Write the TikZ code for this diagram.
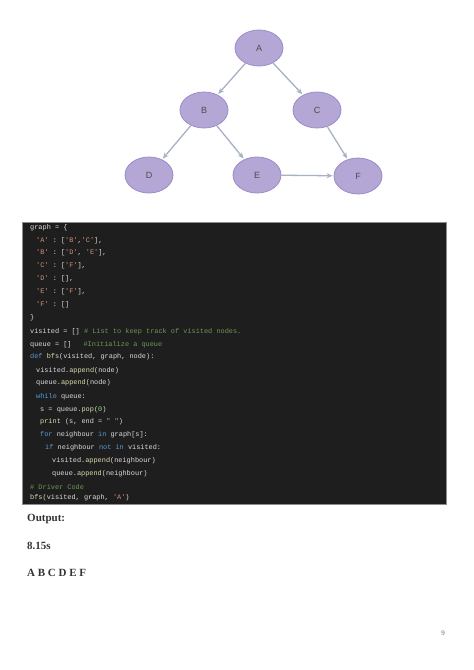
\documentclass[tikz,border=0pt]{standalone}
\usepackage{fontspec}
\setmainfont{Liberation Serif}
\setsansfont{Liberation Sans}
\setmonofont{Liberation Mono}
\usetikzlibrary{arrows.meta,shapes.geometric}
\definecolor{nodefill}{HTML}{B4A7D6}
\definecolor{nodeline}{HTML}{9A8BC8}
\definecolor{edgecol}{HTML}{A7B1C6}
\definecolor{codebg}{HTML}{1E1E1E}
\definecolor{codetxt}{HTML}{DCDCDC}
\definecolor{codestr}{HTML}{CE9178}
\definecolor{codecom}{HTML}{6A9955}
\definecolor{codekw}{HTML}{569CD6}
\definecolor{codefn}{HTML}{DCDCAA}
\newcommand\pys[1]{\textcolor{codestr}{#1}}
\newcommand\pyk[1]{\textcolor{codekw}{#1}}
\newcommand\pyc[1]{\textcolor{codecom}{#1}}
\newcommand\pyf[1]{\textcolor{codefn}{#1}}
\newcommand\ind[1]{\hspace*{#1pt}}
\begin{document}
\begin{tikzpicture}[x=1pt,y=-1pt,
  vert/.style={ellipse,draw=nodeline,fill=nodefill,line width=0.8pt,minimum width=48,minimum height=36,font=\sffamily\small,text=black!70},
  edge/.style={-{Stealth[length=6pt,width=5pt]},draw=edgecol,line width=1.3pt,shorten >=1pt},
  code/.style={anchor=west,inner sep=0pt,font=\ttfamily\fontsize{6.9}{8}\selectfont,text=codetxt},
  outtext/.style={anchor=west,inner sep=0pt,font=\bfseries\fontsize{11}{13}\selectfont,text=black!80}]
\useasboundingbox (0,0) rectangle (474,670);

% the graph
\node[vert] (A) at (259,48) {A};
\node[vert] (B) at (204,110) {B};
\node[vert] (C) at (317,110) {C};
\node[vert] (D) at (149,175) {D};
\node[vert] (E) at (257,175) {E};
\node[vert] (F) at (358,176) {F};

\draw[edge] (A) -- (B);
\draw[edge] (A) -- (C);
\draw[edge] (B) -- (D);
\draw[edge] (B) -- (E);
\draw[edge] (C) -- (F);
\draw[edge] (E) -- (F);

% the code
\draw[fill=codebg,draw=black!45,line width=1pt] (22,222) rectangle (446,504);

\node[code] (l1) at (30,228) {graph = \{};
\node[code] (l2) at (30,241) {\ind{6}\pys{'A'} : [\pys{'B'},\pys{'C'}],};
\node[code] (l3) at (30,253) {\ind{6}\pys{'B'} : [\pys{'D'}, \pys{'E'}],};
\node[code] (l4) at (30,266) {\ind{6}\pys{'C'} : [\pys{'F'}],};
\node[code] (l5) at (30,279) {\ind{6}\pys{'D'} : [],};
\node[code] (l6) at (30,292) {\ind{6}\pys{'E'} : [\pys{'F'}],};
\node[code] (l7) at (30,305) {\ind{6}\pys{'F'} : []};
\node[code] (l8) at (30,318) {\}};
\node[code] (l9) at (30,332) {visited = [] \pyc{\# List to keep track of visited nodes.}};
\node[code] (l10) at (30,345) {queue = []\ind{12}\pyc{\#Initialize a queue}};
\node[code] (l11) at (30,357) {\pyk{def} \pyf{bfs}(visited, graph, node):};
\node[code] (l12) at (30,371) {\ind{6}visited.\pyf{append}(node)};
\node[code] (l13) at (30,383) {\ind{6}queue.\pyf{append}(node)};
\node[code] (l14) at (30,397) {\ind{6}\pyk{while} queue:};
\node[code] (l15) at (30,410) {\ind{10}s = queue.\pyf{pop}(\textcolor{codefn!60!green}{0})};
\node[code] (l16) at (30,422) {\ind{10}\pyf{print} (s, end = \pys{" "})};
\node[code] (l17) at (30,435) {\ind{10}\pyk{for} neighbour \pyk{in} graph[s]:};
\node[code] (l18) at (30,448) {\ind{15}\pyk{if} neighbour \pyk{not in} visited:};
\node[code] (l19) at (30,461) {\ind{22}visited.\pyf{append}(neighbour)};
\node[code] (l20) at (30,474) {\ind{22}queue.\pyf{append}(neighbour)};
\node[code] (l21) at (30,487) {\pyc{\# Driver Code}};
\node[code] (l22) at (30,498) {\pyf{bfs}(visited, graph, \pys{'A'})};

% the output
\node[outtext] (o1) at (27,519) {Output:};
\node[outtext] (o2) at (27,546) {8.15s};
\node[outtext] (o3) at (27,573) {A B C D E F};

\node[font=\fontsize{7}{8}\selectfont,text=black!60] (pg) at (443,633) {9};
\end{tikzpicture}
\end{document}
